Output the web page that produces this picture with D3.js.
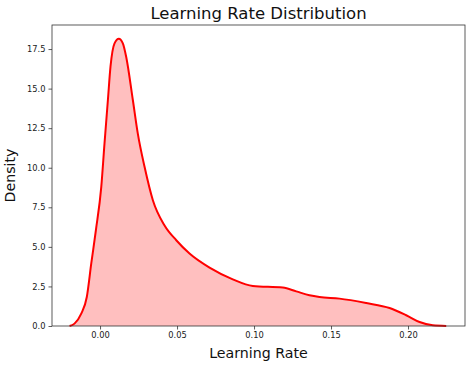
<!DOCTYPE html>
<html>
<head>
<meta charset="utf-8">
<script src="https://cdn.jsdelivr.net/npm/d3@7"></script>
<style>
  body { margin: 0; background: #fff; }
  text { font-family: "DejaVu Sans", sans-serif; }
</style>
</head>
<body>
<div id="chart"></div>
<script>
// density curve
var rate = [-0.0198, -0.0166, -0.0122, -0.0086, -0.0057, -0.0027, 0.0008, 0.0029, 0.0051, 0.0068, 0.0094, 0.0122, 0.0148, 0.0170, 0.0213, 0.0245, 0.0289, 0.0343, 0.0419, 0.0495, 0.0581, 0.0711, 0.0862, 0.0992, 0.1187, 0.1274, 0.1360, 0.1425, 0.1555, 0.1729, 0.1880, 0.1988, 0.2075, 0.2161, 0.2248];
var density = [0.0, 0.15, 0.78, 1.83, 3.95, 6.05, 8.79, 11.54, 14.28, 16.4, 17.86, 18.15, 17.86, 17.0, 14.28, 12.17, 10.06, 7.95, 6.35, 5.42, 4.58, 3.69, 2.95, 2.53, 2.43, 2.19, 1.94, 1.83, 1.73, 1.45, 1.14, 0.68, 0.25, 0.04, 0.0];
var xTicks = [0.00, 0.05, 0.10, 0.15, 0.20];
var yTicks = [0.0, 2.5, 5.0, 7.5, 10.0, 12.5, 15.0, 17.5];

var W = 474, H = 366;
var margin = {top:25, right:9, bottom:40, left:52},
w = W - margin.left - margin.right,
h = H - margin.top - margin.bottom;

var data = rate.map(function(d,i){ return {x:d, y:density[i]}; });

var svg = d3.select("#chart")
  .append("svg")
  .attr("width", W)
  .attr("height", H)
  .append("g")
  .attr("transform", `translate(${margin.left},${margin.top})`);

var x = d3.scaleLinear().domain([-0.0312, 0.2370]).range([0, w]);
var y = d3.scaleLinear().domain([0, 19.02]).range([h, 0]);

var area = d3.area()
  .x(function(d){ return x(d.x); })
  .y0(h)
  .y1(function(d){ return y(d.y); })
  .curve(d3.curveMonotoneX);
var line = d3.line()
  .x(function(d){ return x(d.x); })
  .y(function(d){ return y(d.y); })
  .curve(d3.curveMonotoneX);

svg.append("path").datum(data)
  .attr("d", area)
  .attr("fill", "#ffbfbf");
svg.append("path").datum(data)
  .attr("d", line)
  .attr("fill", "none")
  .attr("stroke", "#ff0000")
  .attr("stroke-width", 2);

// axes
var xAxis = svg.append("g")
  .attr("transform", "translate(0," + h + ")")
  .call(d3.axisBottom(x).tickValues(xTicks).tickFormat(d3.format(".2f")).tickSize(3.5).tickPadding(3));
var yAxis = svg.append("g")
  .call(d3.axisLeft(y).tickValues(yTicks).tickFormat(d3.format(".1f")).tickSize(3.5).tickPadding(3));
[xAxis, yAxis].forEach(function(a){
  a.select(".domain").remove();
  a.selectAll("line").attr("stroke", "#333").attr("stroke-width", 0.8);
  a.selectAll("text").attr("font-size", 8.3).attr("fill", "#222")
    .style("font-family", "DejaVu Sans");
});

// frame
svg.append("rect")
  .attr("width", w).attr("height", h)
  .attr("fill", "none")
  .attr("stroke", "#333")
  .attr("stroke-width", 0.8);

svg.append("text")
  .attr("x", w/2).attr("y", -6)
  .attr("text-anchor", "middle")
  .attr("font-size", 16.5)
  .attr("fill", "#111")
  .text("Learning Rate Distribution");
svg.append("text")
  .attr("x", w/2).attr("y", h + 32)
  .attr("text-anchor", "middle")
  .attr("font-size", 14.2)
  .attr("fill", "#111")
  .text("Learning Rate");
svg.append("text")
  .attr("transform", `translate(${-37},${h/2}) rotate(-90)`)
  .attr("text-anchor", "middle")
  .attr("font-size", 14.2)
  .attr("fill", "#111")
  .text("Density");
</script>
</body>
</html>
